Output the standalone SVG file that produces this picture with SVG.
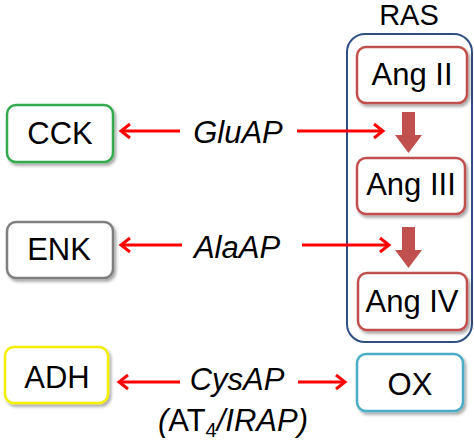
<svg xmlns="http://www.w3.org/2000/svg" width="474" height="442" viewBox="0 0 474 442">
<style>
text{font-family:"Liberation Sans",Arial,sans-serif;font-size:31px;fill:#000;text-anchor:middle}
.it{font-style:italic}
.box{fill:#fff;stroke-width:2.5;filter:url(#sh)}
.ang{stroke:#c0504d}
.red{stroke:#ff0000;stroke-width:3;fill:none}
.thick{fill:#c0504d}
</style>
<defs>
<filter id="sh" x="-10%" y="-10%" width="130%" height="140%">
<feDropShadow dx="2" dy="2.5" stdDeviation="1.5" flood-color="#000" flood-opacity="0.35"/>
</filter>
<marker id="ah" markerWidth="14" markerHeight="18" refX="11" refY="9" orient="auto" markerUnits="userSpaceOnUse">
<polyline points="2,2 11,9 2,16" fill="none" stroke="#ff0000" stroke-width="3"/>
</marker>
</defs>
<text x="409" y="25" style="font-size:29px">RAS</text>
<g id="ras">
<rect x="347" y="34" width="125" height="308" rx="18" fill="#fff" stroke="#2f4f82" stroke-width="2"/>
</g>
<g id="angII">
<rect class="box ang" x="357" y="47" width="110" height="56" rx="9"/>
<text x="412" y="85">Ang II</text>
</g>
<g id="angIII">
<rect class="box ang" x="357" y="158" width="108" height="56" rx="9"/>
<text x="411" y="195">Ang III</text>
</g>
<g id="angIV">
<rect class="box ang" x="358" y="273" width="109" height="57" rx="9"/>
<text x="412" y="312">Ang IV</text>
</g>
<g id="cck">
<rect class="box" x="7" y="105" width="106" height="57" rx="9" stroke="#33aa4d"/>
<text x="60" y="144">CCK</text>
</g>
<g id="enk">
<rect class="box" x="7" y="222" width="106" height="56" rx="9" stroke="#7f7f7f"/>
<text x="59" y="260">ENK</text>
</g>
<g id="adh">
<rect class="box" x="5" y="347" width="103" height="56" rx="9" stroke="#f2f000"/>
<text x="57" y="388">ADH</text>
</g>
<g id="ox">
<rect class="box" x="357" y="354" width="106" height="57" rx="9" stroke="#4bacc6"/>
<text x="410" y="395">OX</text>
</g>
<g id="gluap"><text class="it" x="238" y="143">GluAP</text></g>
<g id="alaap"><text class="it" x="237" y="258">AlaAP</text></g>
<g id="cysap">
<text class="it" x="237" y="390">CysAP</text>
<text x="233" y="431"><tspan class="it">(</tspan>AT<tspan font-size="20" dy="6">4</tspan><tspan class="it" dy="-6">/IRAP)</tspan></text>
</g>
<g id="connectors">
<line class="red" x1="180" y1="131" x2="121" y2="131" marker-end="url(#ah)"/>
<line class="red" x1="297" y1="131" x2="383" y2="131" marker-end="url(#ah)"/>
<line class="red" x1="182" y1="245" x2="121" y2="245" marker-end="url(#ah)"/>
<line class="red" x1="302" y1="245" x2="389" y2="245" marker-end="url(#ah)"/>
<line class="red" x1="180" y1="382" x2="119" y2="382" marker-end="url(#ah)"/>
<line class="red" x1="298" y1="382" x2="345" y2="382" marker-end="url(#ah)"/>
<polygon class="thick" points="402,112 415,112 415,135 422,135 408.5,153 395,135 402,135"/>
<polygon class="thick" points="402,227 415,227 415,250 422,250 408.5,268 395,250 402,250"/>
</g>
</svg>
